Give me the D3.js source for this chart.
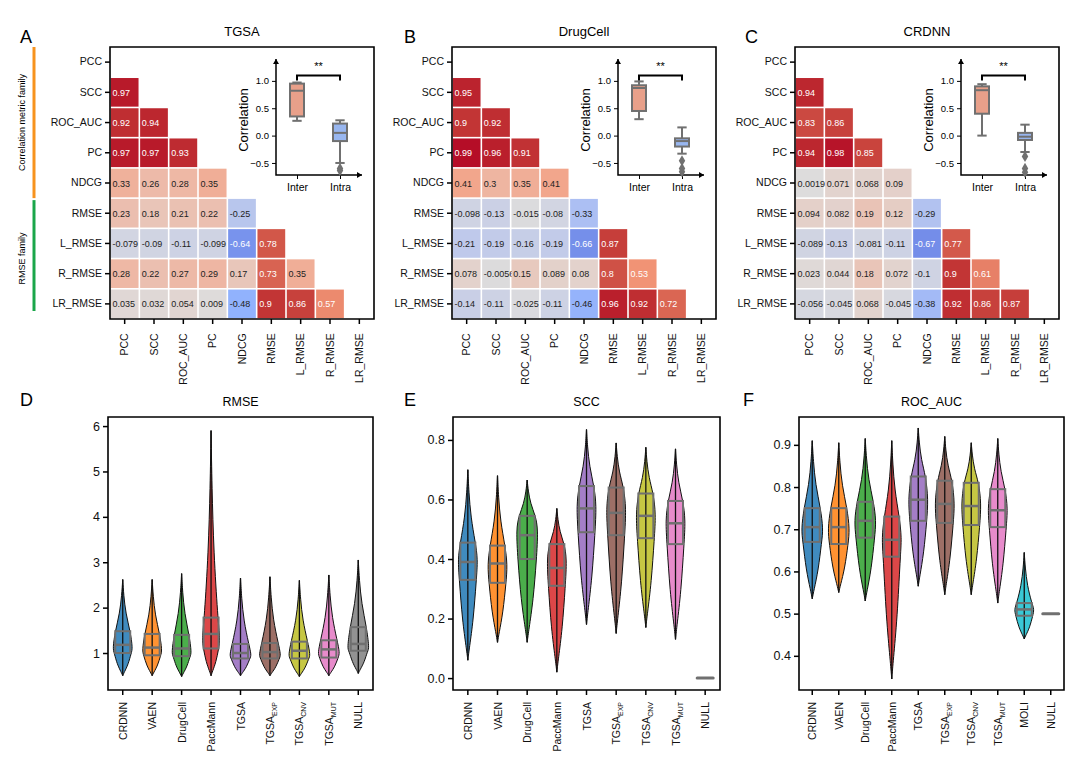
<!DOCTYPE html>
<html><head><meta charset="utf-8">
<script src="https://cdn.jsdelivr.net/npm/d3@7"></script>
<style>body{margin:0;background:#fff}text{font-family:Arial,"Liberation Sans",sans-serif}</style>
</head><body><svg id="c" width="1080" height="768"></svg>
<script>
const metrics=["PCC","SCC","ROC_AUC","PC","NDCG","RMSE","L_RMSE","R_RMSE","LR_RMSE"];
const corrTGSA=[[],[.97],[.92,.94],[.97,.97,.93],[.33,.26,.28,.35],[.23,.18,.21,.22,-.25],[-.079,-.09,-.11,-.099,-.64,.78],[.28,.22,.27,.29,.17,.73,.35],[.035,.032,.054,.009,-.48,.9,.86,.57]];
const corrDrugCell=[[],[.95],[.9,.92],[.99,.96,.91],[.41,.3,.35,.41],[-.098,-.13,-.015,-.08,-.33],[-.21,-.19,-.16,-.19,-.66,.87],[.078,-.0056,.15,.089,.08,.8,.53],[-.14,-.11,-.025,-.11,-.46,.96,.92,.72]];
const corrCRDNN=[[],[.94],[.83,.86],[.94,.98,.85],[.0019,.071,.068,.09],[.094,.082,.19,.12,-.29],[-.089,-.13,-.081,-.11,-.67,.77],[.023,.044,.18,.072,-.1,.9,.61],[-.056,-.045,.068,-.045,-.38,.92,.86,.87]];
// inset boxes: [min,q1,median,q3,max,outliers]
const insetTGSA={Inter:[.27,.35,.82,.95,.97,[]],Intra:[-.5,-.1,.05,.22,.28,[-.6,-.64]]};
const insetDrugCell={Inter:[.3,.45,.87,.92,.99,[]],Intra:[-.33,-.2,-.1,-.05,.15,[-.46,-.6,-.66]]};
const insetCRDNN={Inter:[.0,.4,.83,.9,.94,[]],Intra:[-.3,-.08,-.02,.05,.2,[-.38,-.6,-.67]]};
const insetTicks=[-0.5,0,0.5,1.0];
const models=["CRDNN","VAEN","DrugCell","PaccMann","TGSA","TGSA_EXP","TGSA_CNV","TGSA_MUT","NULL"];
const modelsF=["CRDNN","VAEN","DrugCell","PaccMann","TGSA","TGSA_EXP","TGSA_CNV","TGSA_MUT","MOLI","NULL"];
const colors={CRDNN:"#1f77b4",VAEN:"#ff7f0e",DrugCell:"#2ca02c",PaccMann:"#d62728",TGSA:"#9467bd",TGSA_EXP:"#8c564b",TGSA_CNV:"#bcbd22",TGSA_MUT:"#e377c2",NULL:"#7f7f7f",MOLI:"#17becf"};
// [min,q1,median,q3,max,mode,peakHalfWidth(px)]
const rmseStats=[[.5,1.0,1.18,1.48,2.62,1.1,10],[.5,.95,1.12,1.42,2.62,1.05,10],[.48,.93,1.1,1.4,2.75,1.0,10],[.5,1.1,1.42,1.78,5.9,1.3,9],[.5,.88,1.0,1.2,2.65,.95,11],[.5,.88,1.02,1.22,2.68,.95,11],[.48,.88,1.05,1.25,2.6,.95,11],[.5,.9,1.08,1.28,2.72,1.0,11],[.55,1.05,1.2,1.57,3.05,1.1,11]];
const sccStats=[[.06,.33,.39,.455,.70,.4,10],[.12,.32,.385,.445,.68,.38,10],[.12,.40,.48,.545,.665,.5,11],[.02,.31,.37,.45,.57,.4,10],[.18,.49,.57,.645,.835,.58,10],[.15,.48,.555,.64,.79,.57,10],[.17,.47,.545,.62,.775,.55,10],[.13,.45,.52,.595,.77,.53,10],[0,0,0,0,0,0,0]];
const rocStats=[[.535,.67,.705,.75,.91,.7,11],[.55,.665,.705,.75,.905,.7,11],[.53,.68,.72,.765,.915,.72,11],[.345,.635,.675,.73,.91,.68,10],[.565,.72,.77,.825,.94,.77,10],[.545,.715,.76,.815,.92,.76,10],[.545,.71,.755,.81,.905,.76,10],[.525,.705,.745,.795,.915,.75,10],[.44,.495,.51,.525,.645,.51,10],[.5,.5,.5,.5,.5,.5,0]];
const rmseTicks=[1,2,3,4,5,6], sccTicks=[0,.2,.4,.6,.8], rocTicks=[.4,.5,.6,.7,.8,.9];

const svg=d3.select("#c");
const cw=d3.scaleLinear().domain([-1,-.5,0,.5,1]).range(["#3b4cc0","#8db0fe","#dddcdc","#f49a7b","#b40426"]).interpolate(d3.interpolateLab);
function fmt(v){return String(v);}
function frame(x0,y0,w,h){
  svg.append("path").attr("d",`M${x0},${y0}H${x0+w}V${y0+h}H${x0}Z`).style("fill","none").style("stroke","#000").style("stroke-width","1.6px");
}

function heat(x0,title,letter,lx,corr,inset,showFam){
  const W=264,H=272,y0=47;
  const g=svg.append("g");
  const x=d3.scaleBand().domain(metrics).range([x0,x0+W]);
  const y=d3.scaleBand().domain(metrics).range([y0,y0+H]);
  corr.forEach((row,i)=>row.forEach((v,j)=>{
    g.append("rect").attr("x",x(metrics[j])+.8).attr("y",y(metrics[i])+.8).attr("width",x.bandwidth()-1.6).attr("height",y.bandwidth()-1.6).attr("fill",cw(v));
    g.append("text").attr("x",x(metrics[j])+2.5).attr("y",y(metrics[i])+y.bandwidth()/2+3.5).attr("font-size",9).attr("fill",Math.abs(v)>0.5?"#fff":"#222").text(fmt(v));
  }));
  g.append("g").attr("transform",`translate(${x0},0)`).call(d3.axisLeft(y).tickSize(5)).call(a=>{a.select(".domain").remove();a.selectAll("text").attr("font-size",10.5).attr("fill","#111");a.selectAll("line").attr("stroke-width",1.5);});
  g.append("g").attr("transform",`translate(0,${y0+H})`).call(d3.axisBottom(x).tickSize(5)).call(a=>{a.select(".domain").remove();a.selectAll("line").attr("stroke-width",1.5);a.selectAll("text").attr("font-size",10.5).attr("fill","#111").attr("transform","rotate(-90)").attr("text-anchor","end").attr("dx","-0.6em").attr("dy","0.35em").attr("x",-8).attr("y",0);});
  frame(x0,y0,W,H);
  svg.append("text").attr("x",x0+W/2).attr("y",36).attr("text-anchor","middle").attr("font-size",13).text(title);
  svg.append("text").attr("x",lx).attr("y",43).attr("font-size",18).text(letter);
  // inset
  const ix=x0+166, iy0=59, iy1=175, ix1=x0+252;
  const ys=d3.scaleLinear().domain([-0.72,1.4]).range([iy1,iy0]);
  const xs=d3.scalePoint().domain(["Inter","Intra"]).range([ix+21,ix+64]);
  const ig=svg.append("g");
  ig.append("g").attr("transform",`translate(${ix},0)`).call(d3.axisLeft(ys).tickValues(insetTicks).tickSize(4)).call(a=>{a.select(".domain").remove();a.selectAll("text").attr("font-size",9.5).text(d=>d3.format(".1f")(d).replace("-","−"));});
  ig.append("g").attr("transform",`translate(0,${iy1})`).call(d3.axisBottom(xs).tickSize(4)).call(a=>{a.select(".domain").remove();a.selectAll("text").attr("font-size",10.5).attr("dy","0.9em");});
  ig.append("path").attr("d",`M${ix},${iy0}V${iy1}H${ix1}`).style("fill","none").style("stroke","#000").style("stroke-width","1.5px");
  ig.append("path").attr("d",`M${ix-3},${iy0+5}L${ix},${iy0}L${ix+3},${iy0+5}Z`).attr("fill","#000");
  ig.append("path").attr("d",`M${ix1-5},${iy1-3}L${ix1},${iy1}L${ix1-5},${iy1+3}Z`).attr("fill","#000");
  ig.append("text").attr("transform",`translate(${ix-28},${(iy0+iy1)/2+3}) rotate(-90)`).attr("text-anchor","middle").attr("font-size",13).text("Correlation");
  const fills={Inter:"#e8a08a",Intra:"#98b6ef"};
  Object.entries(inset).forEach(([k,s])=>{
    const cx=xs(k),bw=7;
    ig.append("line").attr("x1",cx).attr("x2",cx).attr("y1",ys(s[0])).attr("y2",ys(s[4])).attr("stroke","#707070").attr("stroke-width",2);
    [s[0],s[4]].forEach(v=>ig.append("line").attr("x1",cx-bw/1.5).attr("x2",cx+bw/1.5).attr("y1",ys(v)).attr("y2",ys(v)).attr("stroke","#707070").attr("stroke-width",2));
    ig.append("rect").attr("x",cx-bw).attr("width",bw*2).attr("y",ys(s[3])).attr("height",ys(s[1])-ys(s[3])).attr("fill",fills[k]).attr("stroke","#707070").attr("stroke-width",2);
    ig.append("line").attr("x1",cx-bw).attr("x2",cx+bw).attr("y1",ys(s[2])).attr("y2",ys(s[2])).attr("stroke","#707070").attr("stroke-width",2);
    s[5].forEach(v=>ig.append("path").attr("d",d3.symbol(d3.symbolDiamond,36)()).attr("transform",`translate(${cx},${ys(v)})`).attr("fill","#707070"));
  });
  const by=ys(1.1);
  ig.append("path").attr("d",`M${xs("Inter")},${by+5}V${by}H${xs("Intra")}V${by+5}`).style("fill","none").style("stroke","#000").style("stroke-width","2px");
  ig.append("text").attr("x",(xs("Inter")+xs("Intra"))/2).attr("y",by-5).attr("text-anchor","middle").attr("font-size",11).text("**");
  if(showFam){
    svg.append("line").attr("x1",34).attr("x2",34).attr("y1",y(metrics[0])).attr("y2",y(metrics[4])+y.bandwidth()).attr("stroke","#f7931e").attr("stroke-width",3);
    svg.append("line").attr("x1",34).attr("x2",34).attr("y1",y(metrics[5])+2).attr("y2",y(metrics[8])+y.bandwidth()-8).attr("stroke","#1aa64a").attr("stroke-width",3);
    svg.append("text").attr("transform",`translate(25,${(y(metrics[0])+y(metrics[4])+y.bandwidth())/2}) rotate(-90)`).attr("text-anchor","middle").attr("font-size",9).text("Correlation metric family");
    svg.append("text").attr("transform",`translate(25,${(y(metrics[5])+y(metrics[8])+y.bandwidth())/2}) rotate(-90)`).attr("text-anchor","middle").attr("font-size",9).text("RMSE family");
  }
}
heat(110,"TGSA","A",20,corrTGSA,insetTGSA,true);
heat(452,"DrugCell","B",404,corrDrugCell,insetDrugCell,false);
heat(795,"CRDNN","C",745,corrCRDNN,insetCRDNN,false);

function violin(x0,x1,dom,ticks,title,letter,lx,cats,stats,tf){
  const y0=417,y1=690;
  const x=d3.scaleBand().domain(cats).range([x0,x1]);
  const y=d3.scaleLinear().domain(dom).range([y1,y0]);
  const g=svg.append("g");
  const area=d3.area().curve(d3.curveBasis).y(d=>y(d[0]));
  cats.forEach((c,i)=>{
    const s=stats[i],cx=x(c)+x.bandwidth()/2,w=s[6];
    if(s[4]-s[0]>0){
      const lo=s[1]-(s[1]-s[0])*0.5, hi=s[3]+(s[4]-s[3])*0.35;
      const pts=[[s[0],0],[s[0]+(lo-s[0])*0.3,w*0.15],[lo,w*0.55],[s[1],w*0.85],[s[5],w],[s[3],w*0.75],[hi,w*0.3],[s[3]+(s[4]-s[3])*0.7,w*0.1],[s[4],0]];
      area.x0(d=>cx-d[1]).x1(d=>cx+d[1]);
      g.append("path").attr("d",area(pts)).attr("fill",colors[c]).attr("fill-opacity",0.85).attr("stroke","#111").attr("stroke-width",1);
      g.append("line").attr("x1",cx).attr("x2",cx).attr("y1",y(s[0])).attr("y2",y(s[4])).attr("stroke","#111").attr("stroke-width",1.3);
      g.append("rect").attr("x",cx-7.5).attr("width",15).attr("y",y(s[3])).attr("height",y(s[1])-y(s[3])).style("fill","none").style("stroke","#707070").style("stroke-width","2px");
      g.append("line").attr("x1",cx-7.5).attr("x2",cx+7.5).attr("y1",y(s[2])).attr("y2",y(s[2])).attr("stroke","#707070").attr("stroke-width",2.5);
    } else {
      g.append("line").attr("x1",cx-8).attr("x2",cx+8).attr("y1",y(s[2])).attr("y2",y(s[2])).attr("stroke","#707070").attr("stroke-width",3).attr("stroke-linecap","round");
    }
  });
  g.append("g").attr("transform",`translate(${x0},0)`).call(d3.axisLeft(y).tickValues(ticks).tickFormat(tf).tickSize(5)).call(a=>{a.select(".domain").remove();a.selectAll("line").attr("stroke-width",1.5);a.selectAll("text").attr("font-size",12.5).attr("fill","#111");});
  const xa=g.append("g").attr("transform",`translate(0,${y1})`).call(d3.axisBottom(x).tickSize(5).tickFormat(""));
  xa.select(".domain").remove();xa.selectAll("line").attr("stroke-width",1.5);
  xa.selectAll(".tick").each(function(d){
    const t=d3.select(this).append("text").attr("transform","rotate(-90)").attr("x",-12).attr("y",4).attr("text-anchor","end").attr("font-size",10.5).attr("fill","#111");
    const parts=d.split("_");
    t.append("tspan").text(parts[0]);
    if(parts[1]) t.append("tspan").attr("font-size",7).attr("dy",3).text(parts[1]);
  });
  frame(x0,y0,x1-x0,y1-y0);
  svg.append("text").attr("x",(x0+x1)/2).attr("y",406).attr("text-anchor","middle").attr("font-size",12.5).text(title);
  svg.append("text").attr("x",lx).attr("y",406).attr("font-size",18).text(letter);
}
violin(108,373,[0.185,6.2],rmseTicks,"RMSE","D",20,models,rmseStats,d3.format("d"));
violin(453,720,[-0.04,0.877],sccTicks,"SCC","E",404,models,sccStats,d3.format(".1f"));
violin(799,1064,[0.319,0.966],rocTicks,"ROC_AUC","F",743,modelsF,rocStats,d3.format(".1f"));
</script></body></html>
